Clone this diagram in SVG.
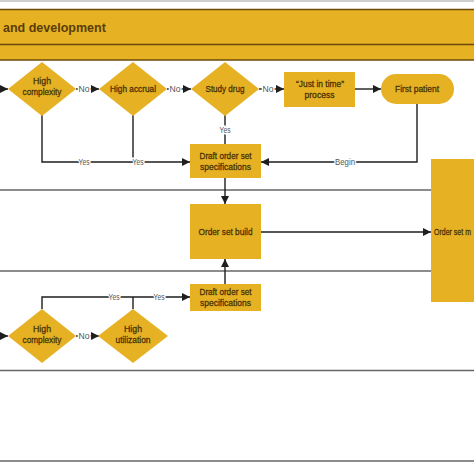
<svg xmlns="http://www.w3.org/2000/svg" width="474" height="474" viewBox="0 0 474 474">
<style>
.band{fill:#E6B224}
.node{fill:#E6B224}
.nt{font-family:"Liberation Sans",Arial,sans-serif;font-size:9.5px;fill:#4a3204;stroke:#4a3204;stroke-width:0.3;text-anchor:middle}
.lbl{font-family:"Liberation Sans",Arial,sans-serif;font-size:9px;fill:#555;text-anchor:middle;stroke:#fff;stroke-width:3;paint-order:stroke}
.ln{stroke:#1e1e1e;stroke-width:1.4;fill:none}
.lane{stroke:#666;stroke-width:1.5;fill:none}
.hdr{stroke:#6b4a0a;stroke-width:1.5}
</style>
<defs>
<marker id="ah" markerUnits="userSpaceOnUse" markerWidth="8" markerHeight="8" refX="8" refY="4" orient="auto">
<path d="M0,0 L8,4 L0,8 z" fill="#1e1e1e"/>
</marker>
</defs>
<rect x="0" y="0" width="474" height="474" fill="#fff"/>
<rect x="0" y="0" width="474" height="2" fill="#cfcfcf"/>
<g id="header">
<rect class="band" x="0" y="9.5" width="474" height="50.5"/>
<line class="hdr" x1="0" y1="9.5" x2="474" y2="9.5"/>
<line class="hdr" x1="0" y1="44.5" x2="474" y2="44.5"/>
<line class="hdr" x1="0" y1="60" x2="474" y2="60"/>
<text x="3" y="32" font-family="'Liberation Sans',Arial,sans-serif" font-size="12.5" font-weight="bold" fill="#5a3d08">and development</text>
</g>
<g id="lanes">
<line class="lane" x1="0" y1="190" x2="431" y2="190"/>
<line class="lane" x1="0" y1="271" x2="431" y2="271"/>
<line class="lane" x1="0" y1="370.5" x2="474" y2="370.5" stroke-width="2"/>
<line class="lane" x1="0" y1="461" x2="474" y2="461" stroke-width="2"/>
</g>
<g id="connectors">
<line class="ln" x1="0" y1="89" x2="8" y2="89" marker-end="url(#ah)"/>
<line class="ln" x1="76" y1="89" x2="99" y2="89" marker-end="url(#ah)"/>
<line class="ln" x1="167" y1="89" x2="191" y2="89" marker-end="url(#ah)"/>
<line class="ln" x1="259" y1="89" x2="284" y2="89" marker-end="url(#ah)"/>
<line class="ln" x1="355" y1="89" x2="381" y2="89" marker-end="url(#ah)"/>
<polyline class="ln" points="417,104 417,162 261,162" marker-end="url(#ah)"/>
<line class="ln" x1="225" y1="115" x2="225" y2="144"/>
<polyline class="ln" points="42,115 42,162 190,162" marker-end="url(#ah)"/>
<line class="ln" x1="133" y1="115" x2="133" y2="162"/>
<line class="ln" x1="225" y1="178" x2="225" y2="204" marker-end="url(#ah)"/>
<line class="ln" x1="225" y1="284" x2="225" y2="259" marker-end="url(#ah)"/>
<line class="ln" x1="261" y1="232" x2="431" y2="232" marker-end="url(#ah)"/>
<line class="ln" x1="0" y1="336" x2="8" y2="336" marker-end="url(#ah)"/>
<line class="ln" x1="76" y1="336" x2="99" y2="336" marker-end="url(#ah)"/>
<polyline class="ln" points="42,309 42,297 190,297" marker-end="url(#ah)"/>
<line class="ln" x1="133" y1="309" x2="133" y2="297"/>
<text class="lbl" x="84" y="92" textLength="11" lengthAdjust="spacingAndGlyphs">No</text>
<text class="lbl" x="175" y="92" textLength="11" lengthAdjust="spacingAndGlyphs">No</text>
<text class="lbl" x="268" y="92" textLength="11" lengthAdjust="spacingAndGlyphs">No</text>
<text class="lbl" x="225" y="133" textLength="11" lengthAdjust="spacingAndGlyphs">Yes</text>
<text class="lbl" x="84" y="165" textLength="11" lengthAdjust="spacingAndGlyphs">Yes</text>
<text class="lbl" x="138" y="165" textLength="11" lengthAdjust="spacingAndGlyphs">Yes</text>
<text class="lbl" x="345" y="165" textLength="20" lengthAdjust="spacingAndGlyphs">Begin</text>
<text class="lbl" x="114" y="300" textLength="11" lengthAdjust="spacingAndGlyphs">Yes</text>
<text class="lbl" x="159" y="300" textLength="11" lengthAdjust="spacingAndGlyphs">Yes</text>
<text class="lbl" x="84" y="339" textLength="11" lengthAdjust="spacingAndGlyphs">No</text>
</g>
<g id="d1">
<polygon class="node" points="42,62 76,89 42,116 8,89"/>
<text class="nt" x="42" y="84" textLength="18" lengthAdjust="spacingAndGlyphs">High</text>
<text class="nt" x="42" y="95" textLength="39" lengthAdjust="spacingAndGlyphs">complexity</text>
</g>
<g id="d2">
<polygon class="node" points="133,62 167,89 133,116 99,89"/>
<text class="nt" x="133" y="92" textLength="46" lengthAdjust="spacingAndGlyphs">High accrual</text>
</g>
<g id="d3">
<polygon class="node" points="225,62 259,89 225,116 191,89"/>
<text class="nt" x="225" y="92" textLength="39" lengthAdjust="spacingAndGlyphs">Study drug</text>
</g>
<g id="jit">
<rect class="node" x="284" y="72" width="71" height="35"/>
<text class="nt" x="320" y="87" textLength="48" lengthAdjust="spacingAndGlyphs">“Just in time”</text>
<text class="nt" x="319.5" y="98" textLength="30" lengthAdjust="spacingAndGlyphs">process</text>
</g>
<g id="first-patient">
<rect class="node" x="381" y="74" width="73" height="30" rx="15" ry="15"/>
<text class="nt" x="417" y="92" textLength="44" lengthAdjust="spacingAndGlyphs">First patient</text>
</g>
<g id="draft1">
<rect class="node" x="190" y="144" width="71" height="34"/>
<text class="nt" x="225.5" y="159" textLength="52" lengthAdjust="spacingAndGlyphs">Draft order set</text>
<text class="nt" x="225.5" y="170" textLength="51" lengthAdjust="spacingAndGlyphs">specifications</text>
</g>
<g id="build">
<rect class="node" x="190" y="204" width="71" height="55"/>
<text class="nt" x="225.5" y="235" textLength="54" lengthAdjust="spacingAndGlyphs">Order set build</text>
</g>
<g id="maint">
<rect class="node" x="431" y="159" width="50" height="143"/>
<text class="nt" x="434" y="235" style="text-anchor:start" textLength="37" lengthAdjust="spacingAndGlyphs">Order set m</text>
</g>
<g id="draft2">
<rect class="node" x="190" y="284" width="71" height="27"/>
<text class="nt" x="225.5" y="295" textLength="52" lengthAdjust="spacingAndGlyphs">Draft order set</text>
<text class="nt" x="225.5" y="306" textLength="51" lengthAdjust="spacingAndGlyphs">specifications</text>
</g>
<g id="d4">
<polygon class="node" points="42,309 76,336 42,363 8,336"/>
<text class="nt" x="42" y="332" textLength="18" lengthAdjust="spacingAndGlyphs">High</text>
<text class="nt" x="42" y="343" textLength="39" lengthAdjust="spacingAndGlyphs">complexity</text>
</g>
<g id="d5">
<polygon class="node" points="133,309 168,336 133,363 98,336"/>
<text class="nt" x="133" y="332" textLength="18" lengthAdjust="spacingAndGlyphs">High</text>
<text class="nt" x="133" y="343" textLength="35" lengthAdjust="spacingAndGlyphs">utilization</text>
</g>
</svg>
